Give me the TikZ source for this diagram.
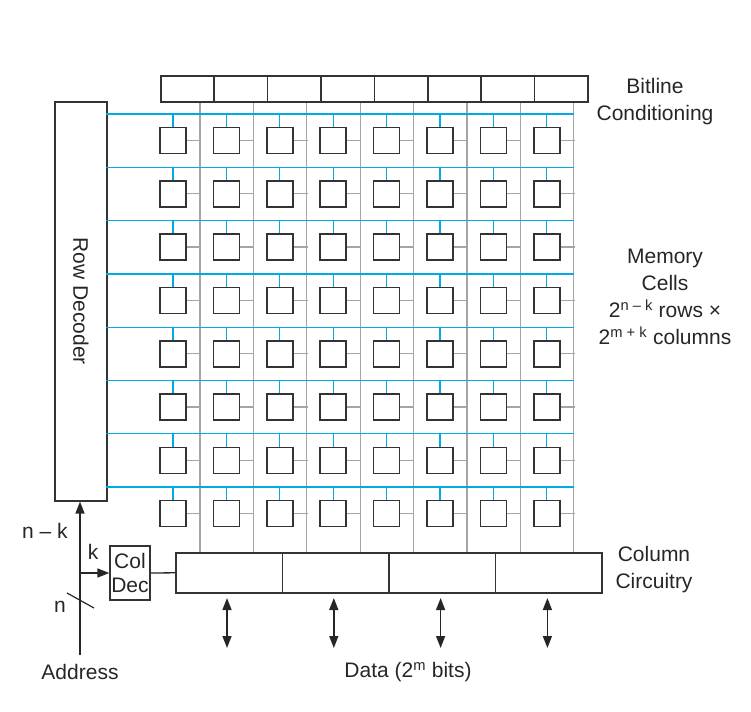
\documentclass[tikz,border=0pt]{standalone}
\usepackage{fontspec}
\setmainfont{Liberation Sans}
\usetikzlibrary{arrows.meta}
\definecolor{wl}{RGB}{0,170,230}
\definecolor{bl}{RGB}{165,165,165}
\begin{document}
\begin{tikzpicture}[x=1pt,y=-1pt,
  box/.style={draw=black!80,line width=1.6pt,inner sep=0pt},
  cell/.style={box,minimum size=26pt},
  word/.style={wl,line width=1.3pt},
  bit/.style={bl,line width=1.3pt},
  lbl/.style={font=\fontsize{21}{27}\selectfont,align=center,text=black!85},
  arr/.style={line width=1.6pt,black!85,-{Triangle[length=12pt,width=9pt]}},
  darr/.style={line width=1.6pt,black!85,{Triangle[length=12pt,width=9pt]}-{Triangle[length=12pt,width=9pt]}}]
\useasboundingbox (0,0) rectangle (751,711);
% bitlines
\foreach \j in {0,...,7}{
  \pgfmathsetmacro\bx{200+53.4*\j}
  \draw[bit] (\bx,101) -- (\bx,552);
}
% bitline conditioning
\foreach \j in {0,...,7}{
  \node[box,minimum width=53.4pt,minimum height=26pt,anchor=north west] (bc\j) at ({160+53.4*\j},75) {};
}
% row decoder
\node[box,minimum width=52pt,minimum height=399pt,anchor=north west] (rd) at (54,101) {};
\node[lbl,rotate=-90] at (rd.center) {Row Decoder};
% rows
\foreach \i in {0,...,7}{
  \pgfmathsetmacro\wy{114+53.3*\i}
  \draw[word] (106,\wy) -- (574,\wy);
  \foreach \j in {0,...,7}{
    \pgfmathsetmacro\cx{173+53.4*\j}
    \node[cell] (c\i\j) at (\cx,\wy+26.5) {};
    \draw[word] (\cx,\wy) -- (c\i\j.north);
    \draw[bit] (c\i\j.east) -- ++(14,0);
  }
}
% column circuitry
\foreach \j in {0,...,3}{
  \node[box,minimum width=106.5pt,minimum height=40pt,anchor=north west] (cc\j) at ({175+106.5*\j},552) {};
  \coordinate (dd\j) at ({227+106.8*\j},648);
  \draw[darr] ({227+106.8*\j},598) -- (dd\j);
}
% col dec
\node[box,minimum width=40pt,minimum height=54pt,line width=1.3pt] (cd) at (130,573) {};
\node[lbl,font=\fontsize{21}{24}\selectfont] at (cd) {Col\\Dec};
\draw[line width=1.3pt,black!85] (cd.east) -- (cc0.west);
% address
\coordinate (addr) at (80,655);
\coordinate (br) at (80,573);
\draw[arr] (addr) -- (rd.south -| addr);
\draw[arr] (br) -- (cd.west);
\draw[line width=1.2pt,black!85] (67,593) -- (94,608);
\node[lbl] at (45,531) {n – k};
\node[lbl] at (93,552) {k};
\node[lbl] at (60,607) {n};
\node[lbl] at (80,672) {Address};
\node[lbl] at (408,672) {Data (2\textsuperscript{m} bits)};
\node[lbl] at (655,102) {Bitline\\Conditioning};
\node[lbl] at (665,297) {Memory\\Cells\\2\textsuperscript{n – k} rows ×\\2\textsuperscript{m + k} columns};
\node[lbl] at (654,570) {Column\\Circuitry};
\end{tikzpicture}
\end{document}
